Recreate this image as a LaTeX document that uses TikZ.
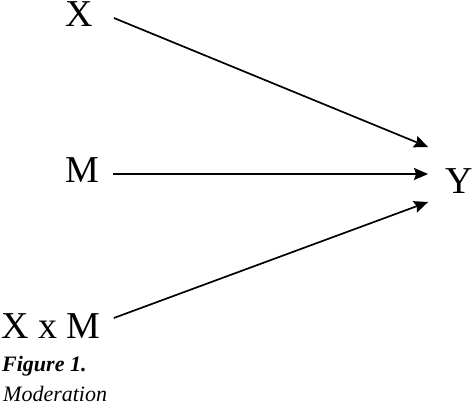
\documentclass[tikz,border=0pt]{standalone}
\usepackage{fontspec}
\setmainfont{Liberation Serif}
\usetikzlibrary{arrows.meta}

\begin{document}
\begin{tikzpicture}[x=1pt,y=-1pt,
  var/.style={anchor=base,inner sep=0pt,font=\fontsize{38}{40}\selectfont},
  arr/.style={line width=1.7pt,-{Stealth[length=14pt,width=12pt,inset=2pt]}}]
\useasboundingbox (0,0) rectangle (474,402);

% Variables
\node[var] (x)  at (79,26)  {X};
\node[var] (m)  at (82,182) {M};
\node[var] (xm) at (51,338) {X x M};
\node[var] (y)  at (459,193) {Y};

% Paths into Y
\draw[arr] ([shift={(21,-8)}]x.base east)   -- ([shift={(-17,-46)}]y.base west);
\draw[arr] ([shift={(14,-8)}]m.base east)   -- ([shift={(-17,-19)}]y.base west);
\draw[arr] ([shift={(13,-20)}]xm.base east) -- ([shift={(-17,9)}]y.base west);

% Caption
\node[anchor=base west,inner sep=0pt,font=\fontsize{22}{24}\selectfont\bfseries\itshape] (fig) at (2,371) {Figure 1.};
\node[anchor=base west,inner sep=0pt,font=\fontsize{22}{24}\selectfont\itshape] (cap) at (3,401) {Moderation};

\end{tikzpicture}
\end{document}
